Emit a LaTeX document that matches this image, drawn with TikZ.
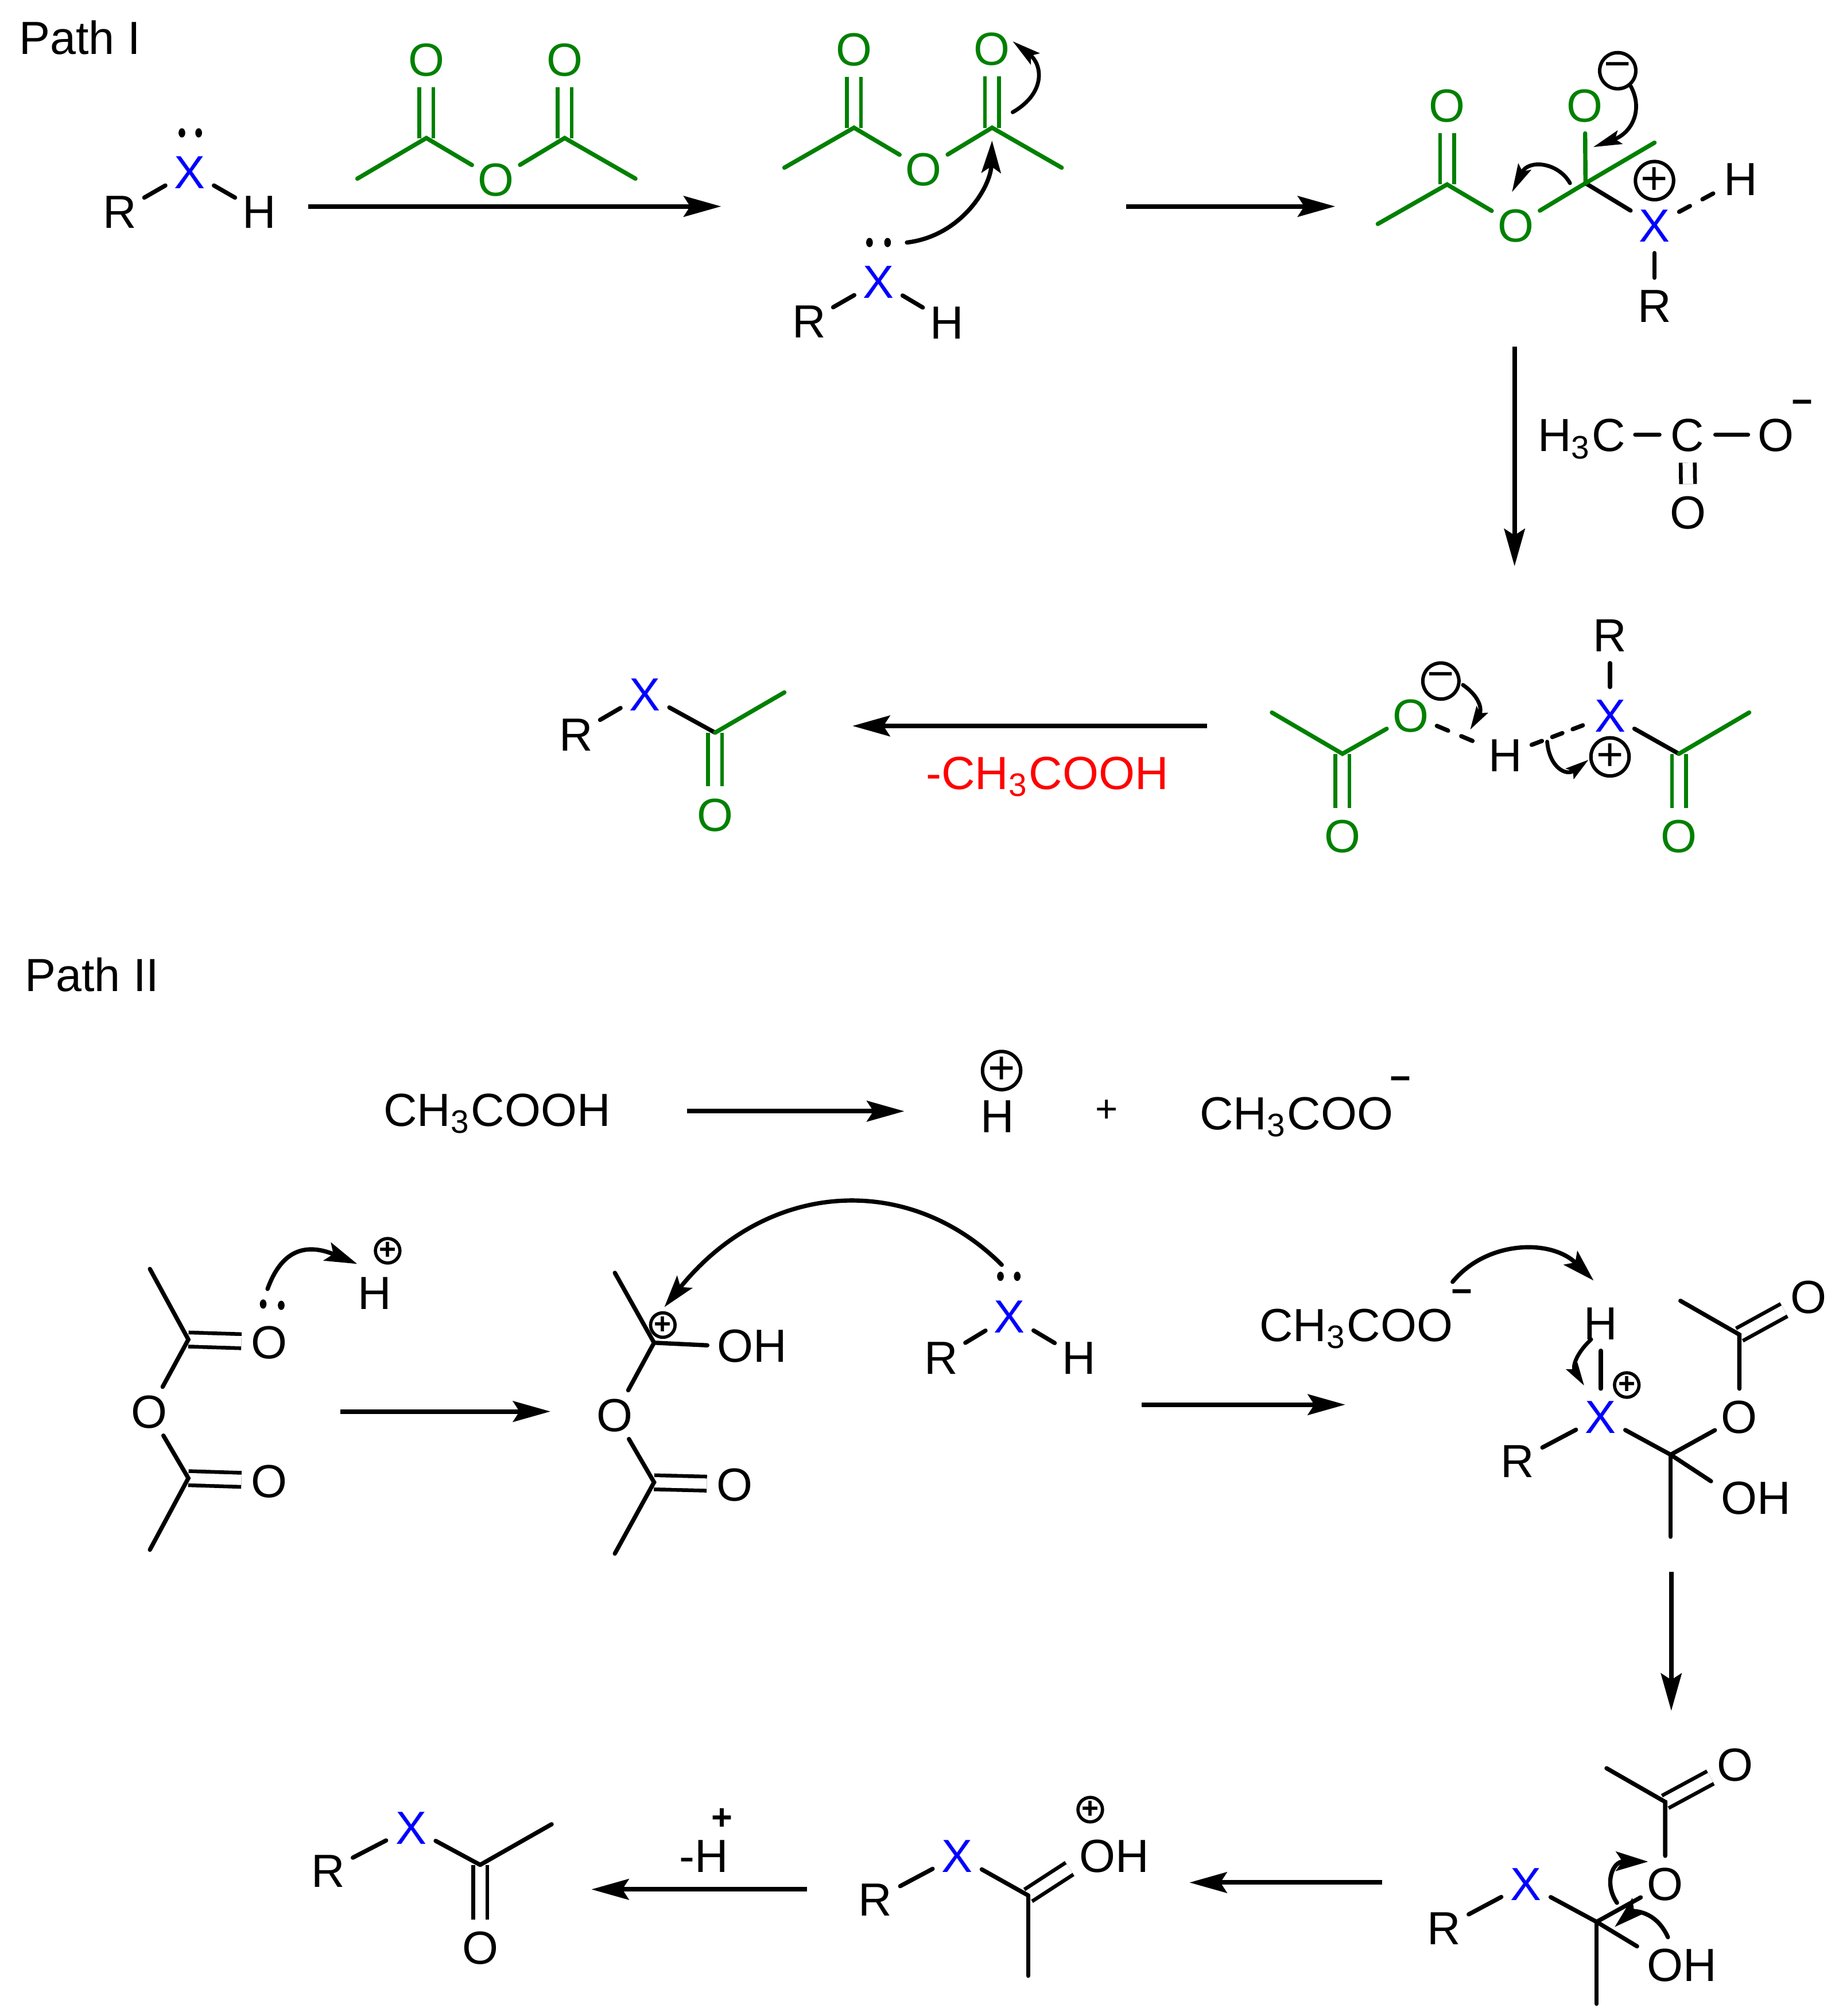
\documentclass[tikz,border=0pt]{standalone}
\usepackage{fontspec}
\setmainfont{Liberation Sans}
\usetikzlibrary{arrows.meta}

\definecolor{grn}{RGB}{0,128,0}

\tikzset{
  every node/.style={font=\fontsize{10.25pt}{12pt}\selectfont},
  atom/.style={circle,inner sep=0pt,minimum size=.42cm,text height=.26cm,text depth=0pt},
  atomx/.style={atom,text=blue},
  atomg/.style={atom,text=grn},
  grp/.style={inner sep=.07cm,text height=.26cm,text depth=0pt},
  plain/.style={inner sep=0pt,text height=.26cm,text depth=0pt},
  chgbig/.style={circle,draw,line width=.027cm,inner sep=0pt,minimum size=.28cm},
  chgsmall/.style={circle,draw,line width=.025cm,inner sep=0pt,minimum size=.19cm,font=\fontsize{6.5pt}{7pt}\selectfont\bfseries},
  supr/.style={inner sep=0pt,font=\fontsize{8pt}{10pt}\selectfont\bfseries},
  bond/.style={line width=.033cm,line cap=round},
  gbond/.style={bond,draw=grn},
  dbl/.style={line width=.029cm,double,double distance=.08cm,line cap=butt},
  gdbl/.style={dbl,draw=grn},
  hbond/.style={bond,dash pattern=on .095cm off .11cm},
  hbondb/.style={bond,dash pattern=on .085cm off .085cm},
  rxn/.style={line width=.036cm,-{Stealth[length=.29cm,width=.16cm,inset=.05cm]}},
  curv/.style={line width=.03cm,line cap=round,-{Stealth[length=.22cm,width=.11cm,inset=.04cm]}},
  curvs/.style={line width=.03cm,line cap=round,-{Stealth[length=.18cm,width=.10cm,inset=.03cm]}},
  curvb/.style={line width=.033cm,line cap=round,-{Stealth[length=.25cm,width=.15cm,inset=.05cm]}}
}

\begin{document}
\begin{tikzpicture}
  \useasboundingbox (0,0) rectangle (14.22,-15.63);

  % Path I
  \node[plain,anchor=west] (path1) at (.14,-.29) {Path I};

  \node[atom] (r1) at (.93,-1.64) {R};
  \node[atomx] (x1) at (1.47,-1.33) {X};
  \node[atom] (h1) at (2.01,-1.64) {H};
  \draw[bond] (r1) -- (x1);
  \draw[bond] (x1) -- (h1);
  \fill (1.41,-1.03) ellipse (.026 and .036) (1.54,-1.03) ellipse (.026 and .036);

  \node[atomg] (o2a) at (3.305,-.46) {O};
  \node[atomg] (o2b) at (4.377,-.46) {O};
  \node[atomg] (o2c) at (3.845,-1.39) {O};
  \coordinate (c2a) at (3.305,-1.07);
  \coordinate (c2b) at (4.377,-1.07);
  \coordinate (m2a) at (2.77,-1.385);
  \coordinate (m2b) at (4.926,-1.385);
  \draw[gdbl] (c2a) -- (o2a);
  \draw[gdbl] (c2b) -- (o2b);
  \draw[gbond] (m2a) -- (c2a) -- (o2c);
  \draw[gbond] (m2b) -- (c2b) -- (o2c);

  \coordinate (a1s) at (2.39,-1.60);
  \coordinate (a1e) at (5.59,-1.60);
  \draw[rxn] (a1s) -- (a1e);

  \node[atomg] (o3a) at (6.62,-.38) {O};
  \node[atomg] (o3b) at (7.69,-.375) {O};
  \node[atomg] (o3c) at (7.16,-1.31) {O};
  \coordinate (c3a) at (6.62,-.99);
  \coordinate (c3b) at (7.69,-.99);
  \coordinate (m3a) at (6.08,-1.30);
  \coordinate (m3b) at (8.23,-1.30);
  \draw[gdbl] (c3a) -- (o3a);
  \draw[gdbl] (c3b) -- (o3b);
  \draw[gbond] (m3a) -- (c3a) -- (o3c);
  \draw[gbond] (m3b) -- (c3b) -- (o3c);
  \coordinate (cv1a) at (7.85,-.87);
  \coordinate (cv1b) at (7.85,-.32);
  \draw[curv] (cv1a) .. controls (8.11,-.72) and (8.08,-.50) .. (cv1b);

  \node[atom] (r4) at (6.27,-2.49) {R};
  \node[atomx] (x4) at (6.81,-2.18) {X};
  \node[atom] (h4) at (7.34,-2.495) {H};
  \draw[bond] (r4) -- (x4);
  \draw[bond] (x4) -- (h4);
  \fill (6.74,-1.88) ellipse (.026 and .036) (6.88,-1.88) ellipse (.026 and .036);
  \coordinate (cv2a) at (7.03,-1.88);
  \coordinate (cv2b) at (7.69,-1.09);
  \draw[curvb] (cv2a) .. controls (7.45,-1.83) and (7.68,-1.45) .. (cv2b);

  \coordinate (a2s) at (8.73,-1.60);
  \coordinate (a2e) at (10.35,-1.60);
  \draw[rxn] (a2s) -- (a2e);

  \node[atomg] (o5a) at (11.217,-.817) {O};
  \node[atomg] (o5b) at (11.75,-1.745) {O};
  \node[atomg] (o5c) at (12.286,-.817) {O};
  \node[atomx] (x5) at (12.825,-1.745) {X};
  \node[atom] (r5) at (12.825,-2.37) {R};
  \node[atom] (h5) at (13.495,-1.384) {H};
  \node[chgbig] (p5) at (12.825,-1.40) {+};
  \node[chgbig] (n5) at (12.54,-.548) {−};
  \coordinate (c5a) at (11.217,-1.43);
  \coordinate (c5b) at (12.29,-1.42);
  \coordinate (m5a) at (10.68,-1.736);
  \coordinate (m5b) at (12.825,-1.106);
  \draw[gdbl] (c5a) -- (o5a);
  \draw[gbond] (m5a) -- (c5a) -- (o5b);
  \draw[gbond] (o5b) -- (c5b);
  \draw[gbond] (c5b) -- (o5c);
  \draw[bond] (c5b) -- (x5);
  \draw[gbond] (c5b) -- (m5b);
  \draw[bond] (x5) -- (r5);
  \draw[hbond] (x5) -- (h5);
  \coordinate (cv3a) at (12.64,-.667);
  \coordinate (cv3b) at (12.35,-1.14);
  \draw[curv] (cv3a) .. controls (12.74,-.85) and (12.65,-1.03) .. (cv3b);
  \coordinate (cv4a) at (12.17,-1.42);
  \coordinate (cv4b) at (11.72,-1.49);
  \draw[curv] (cv4a) .. controls (12.08,-1.26) and (11.85,-1.23) .. (cv4b);

  \coordinate (a3s) at (11.74,-2.687);
  \coordinate (a3e) at (11.74,-4.39);
  \draw[rxn] (a3s) -- (a3e);

  \node[grp] (h3c) at (12.26,-3.37) {H\textsubscript{3}C};
  \node[atom] (c6) at (13.08,-3.37) {C};
  \node[atom] (o6a) at (13.767,-3.37) {O};
  \node[atom] (o6b) at (13.087,-3.97) {O};
  \node[supr] (n6) at (13.97,-3.155) {−};
  \draw[dbl] (c6) -- (o6b);
  \draw[bond] (h3c) -- (c6);
  \draw[bond] (c6) -- (o6a);

  \node[atom] (r7) at (12.48,-4.924) {R};
  \node[atomx] (x7) at (12.48,-5.543) {X};
  \node[atomg] (o7a) at (10.938,-5.543) {O};
  \node[atomg] (o7b) at (10.406,-6.48) {O};
  \node[atomg] (o7c) at (13.014,-6.48) {O};
  \node[atom] (h7) at (11.67,-5.852) {H};
  \node[chgbig] (n7) at (11.169,-5.28) {−};
  \node[chgbig] (p7) at (12.48,-5.868) {+};
  \coordinate (c7a) at (10.406,-5.844);
  \coordinate (c7b) at (13.014,-5.844);
  \coordinate (m7a) at (9.859,-5.524);
  \coordinate (m7b) at (13.559,-5.524);
  \draw[gdbl] (c7a) -- (o7b);
  \draw[gdbl] (c7b) -- (o7c);
  \draw[gbond] (m7a) -- (c7a) -- (o7a);
  \draw[bond] (x7) -- (c7b);
  \draw[gbond] (m7b) -- (c7b);
  \draw[bond] (r7) -- (x7);
  \draw[hbond] (o7a) -- (h7);
  \draw[hbondb] (h7) -- (x7);
  \coordinate (cv5a) at (11.34,-5.31);
  \coordinate (cv5b) at (11.396,-5.657);
  \draw[curvs] (cv5a) .. controls (11.47,-5.40) and (11.49,-5.50) .. (cv5b);
  \coordinate (cv6a) at (11.993,-5.75);
  \coordinate (cv6b) at (12.314,-5.89);
  \draw[curvs] (cv6a) .. controls (12.01,-5.95) and (12.14,-6.02) .. (cv6b);

  \coordinate (a4s) at (9.358,-5.628);
  \coordinate (a4e) at (6.608,-5.628);
  \draw[rxn] (a4s) -- (a4e);
  \node[plain,text=red] (loss1) at (8.118,-5.99) {-CH\textsubscript{3}COOH};

  \node[atom] (r8) at (4.464,-5.69) {R};
  \node[atomx] (x8) at (4.998,-5.38) {X};
  \node[atomg] (o8) at (5.543,-6.314) {O};
  \coordinate (c8) at (5.543,-5.68);
  \coordinate (m8) at (6.08,-5.368);
  \draw[gdbl] (c8) -- (o8);
  \draw[bond] (x8) -- (c8);
  \draw[gbond] (c8) -- (m8);
  \draw[bond] (r8) -- (x8);

  % Path II
  \node[plain,anchor=west] (path2) at (.185,-7.556) {Path II};

  \node[plain] (acid1) at (3.853,-8.60) {CH\textsubscript{3}COOH};
  \coordinate (a5s) at (5.325,-8.615);
  \coordinate (a5e) at (7.01,-8.615);
  \draw[rxn] (a5s) -- (a5e);
  \node[plain] (h9) at (7.73,-8.65) {H};
  \node[chgbig] (p9) at (7.764,-8.30) {+};
  \node[inner sep=0pt,font=\fontsize{8.5pt}{9pt}\selectfont] (plus9) at (8.58,-8.615) {+};
  \node[plain] (ac9) at (10.05,-8.627) {CH\textsubscript{3}COO};
  \node[supr] (n9) at (10.857,-8.40) {−};

  \node[atom] (o10a) at (2.088,-10.405) {O};
  \node[atom] (o10b) at (1.157,-10.943) {O};
  \node[atom] (o10c) at (2.088,-11.48) {O};
  \coordinate (c10a) at (1.46,-10.385);
  \coordinate (c10b) at (1.46,-11.46);
  \coordinate (m10a) at (1.162,-9.838);
  \coordinate (m10b) at (1.162,-12.015);
  \draw[dbl] (c10a) -- (o10a);
  \draw[dbl] (c10b) -- (o10c);
  \draw[bond] (m10a) -- (c10a) -- (o10b);
  \draw[bond] (m10b) -- (c10b) -- (o10b);
  \fill (2.04,-10.11) ellipse (.026 and .036) (2.18,-10.12) ellipse (.026 and .036);
  \node[atom] (h10) at (2.905,-10.02) {H};
  \node[chgsmall] (p10) at (3.005,-9.697) {+};
  \coordinate (cv7a) at (2.074,-9.993);
  \coordinate (cv7b) at (2.769,-9.799);
  \draw[curvb] (cv7a) .. controls (2.18,-9.70) and (2.36,-9.63) .. (cv7b);

  \coordinate (a6s) at (2.637,-10.943);
  \coordinate (a6e) at (4.267,-10.943);
  \draw[rxn] (a6s) -- (a6e);

  \node[grp] (oh11) at (5.83,-10.43) {OH};
  \node[atom] (o11b) at (4.766,-10.969) {O};
  \node[atom] (o11c) at (5.696,-11.508) {O};
  \node[chgsmall] (p11) at (5.138,-10.273) {+};
  \coordinate (c11a) at (5.07,-10.41);
  \coordinate (c11b) at (5.07,-11.492);
  \coordinate (m11a) at (4.766,-9.868);
  \coordinate (m11b) at (4.766,-12.045);
  \draw[dbl] (c11b) -- (o11c);
  \draw[bond] (c11a) -- (oh11.west);
  \draw[bond] (m11a) -- (c11a) -- (o11b);
  \draw[bond] (m11b) -- (c11b) -- (o11b);

  \node[atom] (r12) at (7.297,-10.523) {R};
  \node[atomx] (x12) at (7.825,-10.204) {X};
  \node[atom] (h12) at (8.362,-10.523) {H};
  \draw[bond] (r12) -- (x12);
  \draw[bond] (x12) -- (h12);
  \fill (7.755,-9.895) ellipse (.026 and .036) (7.885,-9.895) ellipse (.026 and .036);
  \coordinate (cv8a) at (7.765,-9.806);
  \coordinate (cv8b) at (5.15,-10.134);
  \draw[curvb] (cv8a) .. controls (7.05,-9.09) and (5.95,-9.14) .. (cv8b);

  \coordinate (a7s) at (8.85,-10.89);
  \coordinate (a7e) at (10.428,-10.89);
  \draw[rxn] (a7s) -- (a7e);

  \node[plain] (ac13) at (10.513,-10.27) {CH\textsubscript{3}COO};
  \node[supr] (n13) at (11.33,-10.052) {−};
  \coordinate (cv9a) at (11.26,-9.938);
  \coordinate (cv9b) at (12.353,-9.928);
  \draw[curvb] (cv9a) .. controls (11.52,-9.62) and (12.02,-9.60) .. (cv9b);

  \node[atom] (h14) at (12.408,-10.255) {H};
  \node[atomx] (x14) at (12.408,-10.983) {X};
  \node[atom] (r14) at (11.764,-11.324) {R};
  \node[atom] (o14a) at (13.483,-10.983) {O};
  \node[atom] (o14b) at (14.02,-10.052) {O};
  \node[grp] (oh14) at (13.61,-11.61) {OH};
  \node[chgsmall] (p14) at (12.61,-10.738) {+};
  \coordinate (c14a) at (12.95,-11.278);
  \coordinate (c14b) at (13.483,-10.347);
  \coordinate (m14a) at (13.026,-10.085);
  \coordinate (m14b) at (12.95,-11.914);
  \draw[dbl] (c14b) -- (o14b);
  \draw[bond] (m14a) -- (c14b) -- (o14a);
  \draw[bond] (o14a) -- (c14a) -- (x14);
  \draw[bond] (c14a) -- (oh14.160);
  \draw[bond] (c14a) -- (m14b);
  \draw[bond] (h14) -- (x14);
  \draw[bond] (r14) -- (x14);
  \coordinate (cv10a) at (12.334,-10.384);
  \coordinate (cv10b) at (12.28,-10.743);
  \draw[curvs] (cv10a) .. controls (12.21,-10.50) and (12.19,-10.60) .. (cv10b);

  \coordinate (a8s) at (12.955,-12.185);
  \coordinate (a8e) at (12.955,-13.264);
  \draw[rxn] (a8s) -- (a8e);

  \node[atom] (o15a) at (13.45,-13.677) {O};
  \node[atom] (o15b) at (12.908,-14.605) {O};
  \node[atomx] (x15) at (11.829,-14.605) {X};
  \node[atom] (r15) at (11.193,-14.944) {R};
  \node[grp] (oh15) at (13.037,-15.23) {OH};
  \coordinate (c15a) at (12.376,-14.90);
  \coordinate (c15b) at (12.908,-13.97);
  \coordinate (m15a) at (12.453,-13.709);
  \coordinate (m15b) at (12.376,-15.535);
  \draw[dbl] (c15b) -- (o15a);
  \draw[bond] (m15a) -- (c15b) -- (o15b);
  \draw[bond] (o15b) -- (c15a) -- (x15);
  \draw[bond] (c15a) -- (oh15.158);
  \draw[bond] (c15a) -- (m15b);
  \draw[bond] (r15) -- (x15);
  \coordinate (cv11a) at (12.534,-14.752);
  \coordinate (cv11b) at (12.776,-14.433);
  \draw[curvb] (cv11a) .. controls (12.43,-14.60) and (12.50,-14.43) .. (cv11b);
  \coordinate (cv12a) at (12.929,-15.019);
  \coordinate (cv12b) at (12.516,-14.94);
  \draw[curvb] (cv12a) .. controls (12.83,-14.80) and (12.65,-14.82) .. (cv12b);

  \coordinate (a9s) at (10.715,-14.595);
  \coordinate (a9e) at (9.22,-14.595);
  \draw[rxn] (a9s) -- (a9e);

  \node[atom] (r16) at (6.786,-14.725) {R};
  \node[atomx] (x16) at (7.421,-14.387) {X};
  \node[grp] (oh16) at (8.638,-14.387) {OH};
  \node[chgsmall] (p16) at (8.451,-14.03) {+};
  \coordinate (c16) at (7.97,-14.695);
  \coordinate (m16) at (7.97,-15.318);
  \draw[dbl] (c16) -- (oh16.196);
  \draw[bond] (c16) -- (m16);
  \draw[bond] (x16) -- (c16);
  \draw[bond] (r16) -- (x16);

  \coordinate (a10s) at (6.255,-14.648);
  \coordinate (a10e) at (4.584,-14.648);
  \draw[rxn] (a10s) -- (a10e);
  \node[plain] (loss2) at (5.454,-14.384) {-H};
  \node[supr] (p17) at (5.596,-14.102) {+};

  \node[atom] (r18) at (2.542,-14.502) {R};
  \node[atomx] (x18) at (3.186,-14.169) {X};
  \node[atom] (o18) at (3.722,-15.098) {O};
  \coordinate (c18) at (3.722,-14.458);
  \coordinate (m18) at (4.276,-14.143);
  \draw[dbl] (c18) -- (o18);
  \draw[bond] (c18) -- (m18);
  \draw[bond] (x18) -- (c18);
  \draw[bond] (r18) -- (x18);
\end{tikzpicture}
\end{document}
